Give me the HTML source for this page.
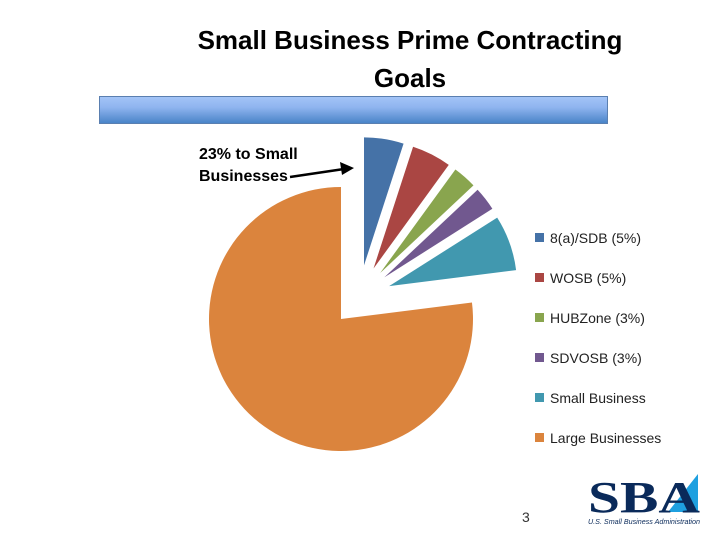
<!DOCTYPE html>
<html><head><meta charset="utf-8"><style>
body{margin:0;width:720px;height:540px;background:#fff;overflow:hidden;position:relative;font-family:"Liberation Sans",sans-serif}
#title{position:absolute;left:150px;width:520px;top:21px;text-align:center;font-size:26px;font-weight:bold;line-height:38px;color:#000;font-family:"Liberation Sans",sans-serif}
#banner{position:absolute;left:99px;top:96px;width:507px;height:26px;border:1px solid #5a7fb0;background:linear-gradient(#a3c4f7,#8fb4ef 40%,#4a84c8)}
svg{position:absolute;left:0;top:0}
</style></head><body>
<div id="title">Small Business Prime Contracting<br>Goals</div>
<div id="banner"></div>
<svg id="chart" width="720" height="540"></svg>
<script>
const categories=["8(a)/SDB (5%)","WOSB (5%)","HUBZone (3%)","SDVOSB (3%)","Small Business","Large Businesses"];
const values=[5,5,3,3,7,77];
const colors=["#4572a7","#aa4643","#89a54e","#71588f","#4198af","#db843d"];
const NS="http://www.w3.org/2000/svg";
const svg=document.getElementById('chart');
const total=values.reduce((a,b)=>a+b,0);
function pt(cx,cy,r,a){return [cx+r*Math.sin(a),cy-r*Math.cos(a)];}
let a0=0;
values.forEach((v,i)=>{
  const a1=a0+v/total*2*Math.PI;
  let cx,cy,r;
  if(i===values.length-1){cx=341;cy=319;r=132;}
  else{const mid=(a0+a1)/2;cx=359+32*Math.sin(mid);cy=297-32*Math.cos(mid);r=128;}
  const p0=pt(cx,cy,r,a0),p1=pt(cx,cy,r,a1);
  const large=(a1-a0)>Math.PI?1:0;
  const p=document.createElementNS(NS,'path');
  p.setAttribute('d',`M${cx},${cy}L${p0[0]},${p0[1]}A${r},${r} 0 ${large} 1 ${p1[0]},${p1[1]}Z`);
  p.setAttribute('fill',colors[i]);
  
  
  svg.appendChild(p);
  const y=238+i*40;
  const s=document.createElementNS(NS,'rect');
  s.setAttribute('x',535);s.setAttribute('y',y-5);s.setAttribute('width',9);s.setAttribute('height',9);s.setAttribute('fill',colors[i]);
  
  
  svg.appendChild(s);
  const t=document.createElementNS(NS,'text');
  t.setAttribute('x',550);t.setAttribute('y',y+5);t.setAttribute('font-size','14');t.setAttribute('fill','#222');
  t.setAttribute('font-family','Liberation Sans, sans-serif');
  t.textContent=categories[i];
  
  
  svg.appendChild(t);
  a0=a1;
});
</script>
<svg width="720" height="540" style="pointer-events:none">
<g font-family="Liberation Sans, sans-serif" font-weight="bold" font-size="16">
<text x="199" y="159">23% to Small</text>
<text x="199" y="181">Businesses</text>
<line x1="290" y1="177" x2="344" y2="169" stroke="#000" stroke-width="2.5"/>
<polygon points="354,168 340,162 342,175" fill="#000"/>
</g>
<text x="522" y="522" font-size="14" fill="#333" font-family="Liberation Sans, sans-serif">3</text>
<g>
<polygon points="668,512 698,474 698,512" fill="#1ea0e0"/>
<text x="588" y="512" font-family="Liberation Serif, serif" font-weight="bold" font-size="44" fill="#0a2a5a" textLength="112" lengthAdjust="spacingAndGlyphs">SBA</text>
<text x="588" y="524" font-size="7" font-style="italic" fill="#0a2a5a" font-family="Liberation Sans, sans-serif" textLength="112" lengthAdjust="spacingAndGlyphs">U.S. Small Business Administration</text>
</g>
</svg>
</body></html>
